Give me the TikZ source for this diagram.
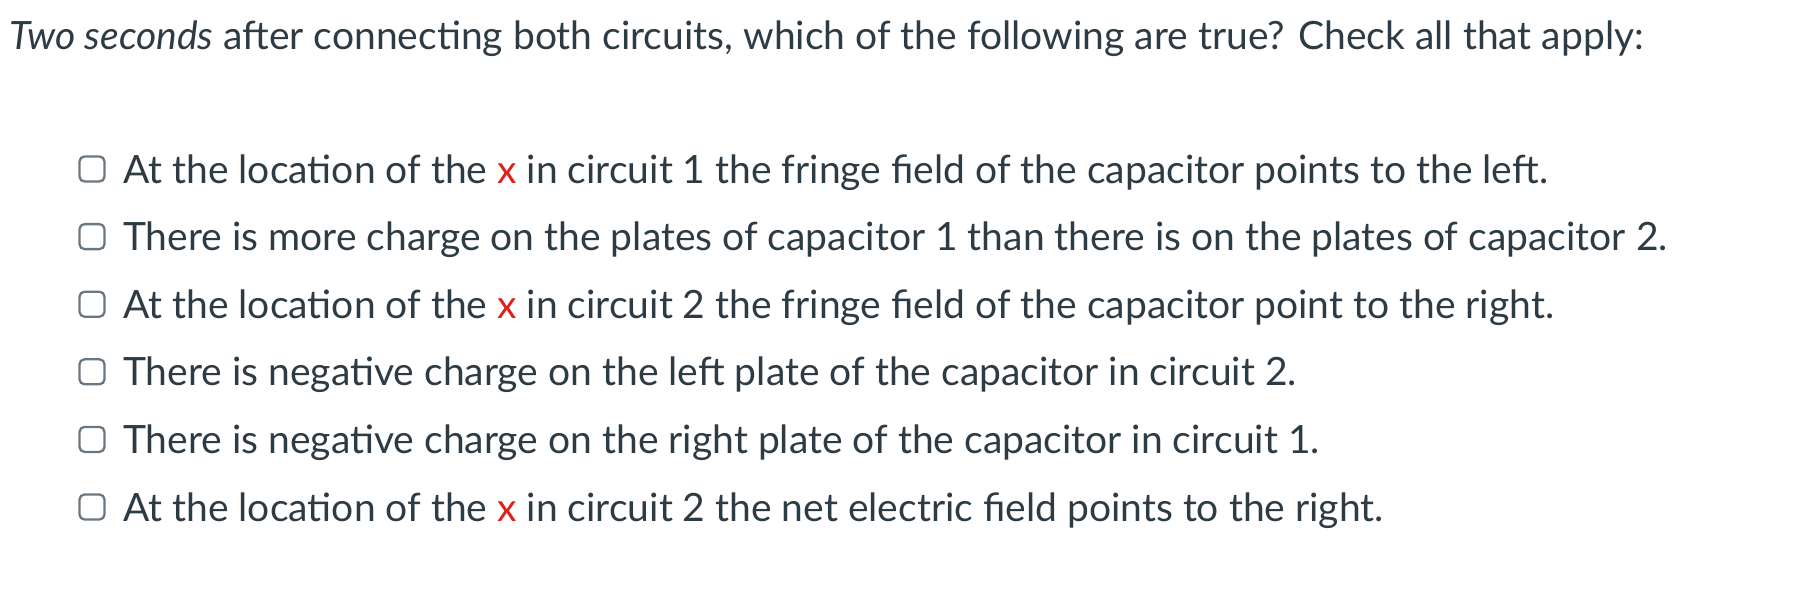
\documentclass[tikz,border=0pt]{standalone}
\usepackage{fontspec}
\setmainfont{Lato}
\definecolor{txt}{HTML}{2D3B45}
\definecolor{xred}{HTML}{E0201B}
\definecolor{boxc}{HTML}{6B7780}
\begin{document}
\begin{tikzpicture}[x=1pt,y=1pt,
  lbl/.style={anchor=base west,inner sep=0pt,text=txt,font=\fontsize{39}{44}\selectfont},
  cbox/.style={draw=boxc,line width=2.3pt,rounded corners=5pt,minimum width=25pt,minimum height=25pt,inner sep=0pt}]
\useasboundingbox (0,0) rectangle (1808,-607);
\node[lbl] (q) at (9,-50) {\textit{Two seconds} after connecting both circuits, which of the following are true? Check all that apply:};
\foreach \i/\t in {0/{At the location of the \textcolor{xred}{x} in circuit 1 the fringe field of the capacitor points to the left.},
 1/{There is more charge on the plates of capacitor 1 than there is on the plates of capacitor 2.},
 2/{At the location of the \textcolor{xred}{x} in circuit 2 the fringe field of the capacitor point to the right.},
 3/{There is negative charge on the left plate of the capacitor in circuit 2.},
 4/{There is negative charge on the right plate of the capacitor in circuit 1.},
 5/{At the location of the \textcolor{xred}{x} in circuit 2 the net electric field points to the right.}}{
  \node[cbox] (b\i) at (92,-169-67.6*\i) {};
  \node[lbl] (t\i) at (123,-183-67.6*\i) {\t};
}
\end{tikzpicture}
\end{document}
